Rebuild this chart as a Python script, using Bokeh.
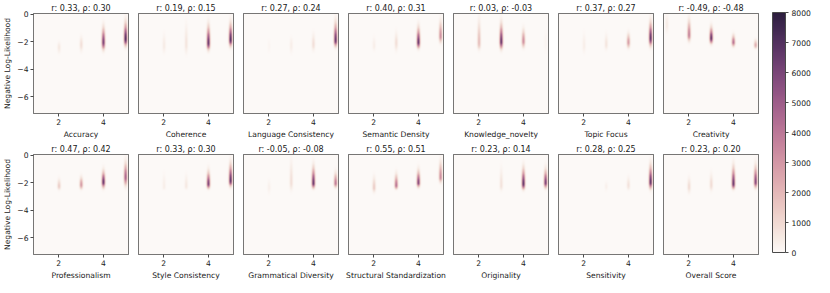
import numpy as np
from bokeh.plotting import figure
from bokeh.layouts import gridplot, row
from bokeh.models import LinearColorMapper, ColorBar, FixedTicker
from bokeh.embed import file_html
from bokeh.resources import INLINE

# ---------------- data ----------------
metrics = ["Accuracy", "Coherence", "Language Consistency", "Semantic Density",
           "Knowledge_novelty", "Topic Focus", "Creativity",
           "Professionalism", "Style Consistency", "Grammatical Diversity",
           "Structural Standardization", "Originality", "Sensitivity", "Overall Score"]
r_vals = [0.33, 0.19, 0.27, 0.40, 0.03, 0.37, -0.49,
          0.47, 0.33, -0.05, 0.55, 0.23, 0.28, 0.23]
rho_vals = [0.30, 0.15, 0.24, 0.31, -0.03, 0.27, -0.48,
            0.42, 0.30, -0.08, 0.51, 0.14, 0.25, 0.20]
scores = [1, 2, 3, 4, 5]

# peak density of each score's blob
peak_density = [
    [0, 600, 900, 6500, 7600],
    [0, 500, 700, 7000, 7500],
    [0, 150, 400, 900, 7000],
    [0, 400, 900, 7000, 3500],
    [0, 2000, 7000, 3500, 150],
    [0, 400, 700, 3000, 7200],
    [500, 4000, 7200, 4500, 2500],
    [0, 1500, 3200, 7000, 5000],
    [0, 400, 600, 6500, 7200],
    [0, 300, 900, 7000, 4200],
    [0, 1500, 4500, 6200, 3600],
    [0, 0, 800, 7200, 6500],
    [0, 0, 300, 800, 7200],
    [0, 1000, 1000, 7000, 6200],
]
# negative log-likelihood at the densest point of each blob
nll_center = [
    [-2.0, -2.40, -2.20, -2.05, -1.80],
    [-2.0, -2.30, -2.20, -2.10, -1.85],
    [-2.0, -2.30, -2.25, -2.20, -1.90],
    [-2.0, -2.30, -2.10, -2.05, -1.60],
    [-2.0, -2.10, -2.00, -1.95, -2.00],
    [-2.0, -2.30, -2.20, -2.05, -1.75],
    [-0.75, -1.50, -1.75, -2.05, -2.25],
    [-2.0, -2.25, -2.15, -1.95, -1.60],
    [-2.0, -2.30, -2.25, -2.10, -1.85],
    [-2.0, -2.35, -2.00, -2.05, -2.05],
    [-2.0, -2.35, -2.20, -2.00, -1.60],
    [-2.0, -2.20, -2.20, -2.10, -2.00],
    [-2.0, -2.20, -2.25, -2.20, -1.95],
    [-2.0, -2.30, -2.15, -2.10, -1.95],
]
# visible upper and lower extent of each blob
nll_upper = [
    [-1.5, -2.05, -1.60, -0.50, -0.05],
    [-1.5, -1.60, -0.85, -0.30, -0.15],
    [-1.5, -2.00, -1.85, -1.40, -0.05],
    [-1.5, -1.85, -1.30, -0.50, -0.15],
    [-1.5, -0.15, -0.15, -0.85, -1.50],
    [-1.5, -1.65, -1.50, -1.20, -0.05],
    [-0.15, -0.05, -0.60, -1.30, -1.75],
    [-1.5, -1.65, -1.40, -0.80, -0.10],
    [-1.5, -1.65, -1.55, -0.80, -0.10],
    [-1.5, -2.00, -0.35, -0.35, -1.00],
    [-1.5, -1.45, -1.10, -0.75, -0.10],
    [-1.5, -1.60, -1.00, -0.45, -0.65],
    [-1.5, -1.60, -2.05, -1.60, -0.20],
    [-1.5, -1.60, -1.30, -0.30, -0.30],
]
nll_lower = [
    [-2.5, -2.77, -2.70, -2.80, -2.55],
    [-2.5, -2.70, -2.80, -2.80, -2.55],
    [-2.5, -2.60, -2.65, -2.65, -2.55],
    [-2.5, -2.55, -2.65, -2.65, -2.20],
    [-2.5, -2.65, -2.75, -2.55, -2.50],
    [-2.5, -2.65, -2.55, -2.55, -2.55],
    [-1.20, -2.10, -2.30, -2.45, -2.55],
    [-2.5, -2.55, -2.55, -2.55, -2.45],
    [-2.5, -2.45, -2.45, -2.55, -2.45],
    [-2.5, -2.60, -2.55, -2.55, -2.45],
    [-2.5, -2.75, -2.55, -2.45, -2.10],
    [-2.5, -2.55, -2.55, -2.65, -2.55],
    [-2.5, -2.50, -2.45, -2.50, -2.65],
    [-2.5, -2.75, -2.60, -2.60, -2.55],
]
x_ticks = [2, 4]
y_ticks = [0, -2, -4, -6]
cbar_ticks = [0, 1000, 2000, 3000, 4000, 5000, 6000, 7000, 8000]

# ---------------- style ----------------
FONT = "DejaVu Sans"
FS = "7.6px"
TFS = "8px"
TXT = "#1a1a1a"
EDGE = "#4a4a4a"
X0, X1 = 0.87, 5.13
Y0, Y1 = -7.2, 0.05
FW, FH = 95, 100
VIS_THR = 200.0   # density at which a blob fades into the background
SD_X = 0.045


def cubehelix_palette(n, light=0.98, dark=0.15, start=0.0, rot=0.4, hue=0.8):
    out = []
    for x in np.linspace(light, dark, n):
        a = hue * x * (1 - x) / 2
        phi = 2 * np.pi * (start / 3 + rot * x)
        c, s = np.cos(phi), np.sin(phi)
        r = x + a * (-0.14861 * c + 1.78277 * s)
        g = x + a * (-0.29227 * c - 0.90649 * s)
        b = x + a * (1.97294 * c)
        rgb = [int(round(255 * min(max(v, 0), 1))) for v in (r, g, b)]
        out.append("#%02x%02x%02x" % tuple(rgb))
    return out


palette = cubehelix_palette(256)
mapper = LinearColorMapper(palette=palette, low=0, high=8000)

NX, NY = 190, 220
gx = np.linspace(X0, X1, NX)
gy = np.linspace(Y0, Y1, NY)
GX, GY = np.meshgrid(gx, gy)

figs = []
for i, name in enumerate(metrics):
    ri, ci = divmod(i, 7)
    p = figure(frame_width=FW, frame_height=FH, x_range=(X0, X1), y_range=(Y0, Y1),
               output_backend="svg", toolbar_location=None,
               min_border_left=28 if ci == 0 else 5, min_border_right=5,
               min_border_top=12, min_border_bottom=28 if ri == 0 else 24,
               title=f"r: {r_vals[i]:.2f}, ρ: {rho_vals[i]:.2f}")
    Z = np.zeros_like(GX)
    for s, pk, c, up, lo in zip(scores, peak_density[i], nll_center[i],
                                nll_upper[i], nll_lower[i]):
        if pk <= 0:
            continue
        k = np.sqrt(2 * np.log(max(pk / VIS_THR, 1.6)))
        su = max((up - c) / k, 0.05)
        sd = max((c - lo) / k, 0.05)
        sy = np.where(GY > c, su, sd)
        Z += pk * np.exp(-0.5 * ((GX - s) / SD_X) ** 2 - 0.5 * ((GY - c) / sy) ** 2)
    Z = np.clip(Z, 0, 8000).astype(np.float32)
    p.image(image=[Z], x=X0, y=Y0, dw=X1 - X0, dh=Y1 - Y0, color_mapper=mapper)

    p.title.text_font = FONT
    p.title.text_font_size = TFS
    p.title.text_font_style = "normal"
    p.title.text_color = TXT
    p.title.align = "center"
    p.title.standoff = 2
    p.grid.visible = False
    p.outline_line_color = EDGE
    p.outline_line_width = 1
    p.background_fill_color = palette[0]
    p.border_fill_color = "white"

    p.xaxis.ticker = FixedTicker(ticks=x_ticks)
    p.yaxis.ticker = FixedTicker(ticks=y_ticks)
    p.yaxis.major_label_overrides = {t: (str(t) if t >= 0 else "\u2212" + str(-t)) for t in y_ticks}
    p.xaxis.axis_label = name
    if ci == 0:
        p.yaxis.axis_label = "Negative Log-Likelihood"
    else:
        p.yaxis.visible = False
    for ax in p.axis:
        ax.major_label_text_font = FONT
        ax.major_label_text_font_size = FS
        ax.major_label_text_color = TXT
        ax.axis_label_text_font = FONT
        ax.axis_label_text_font_size = FS
        ax.axis_label_text_font_style = "normal"
        ax.axis_label_text_color = TXT
        ax.axis_line_color = None
        ax.major_tick_line_color = EDGE
        ax.major_tick_out = 3
        ax.major_tick_in = 0
        ax.minor_tick_out = 0
        ax.minor_tick_in = 0
        ax.major_label_standoff = 2
        ax.axis_label_standoff = 2
    figs.append(p)

grid = gridplot([figs[:7], figs[7:]], toolbar_location=None)

cb_len = 2 * FH + 12 + 28
cb_fig = figure(frame_width=1, frame_height=cb_len, output_backend="svg",
                toolbar_location=None, min_border_left=8, min_border_right=0,
                min_border_top=12, min_border_bottom=24, outline_line_color=None,
                x_range=(0, 1), y_range=(0, 1))
cb_fig.axis.visible = False
cb_fig.grid.visible = False
cb = ColorBar(color_mapper=mapper, width=13, height=cb_len,
              ticker=FixedTicker(ticks=cbar_ticks),
              major_label_text_font=FONT, major_label_text_font_size=FS,
              major_label_text_color=TXT, major_tick_out=3, major_tick_in=0,
              major_tick_line_color=EDGE, bar_line_color=EDGE, bar_line_width=1,
              label_standoff=3, padding=0, margin=0)
cb_fig.add_layout(cb, "right")

layout = row(grid, cb_fig)
open("out.html", "w").write(file_html(layout, INLINE))
